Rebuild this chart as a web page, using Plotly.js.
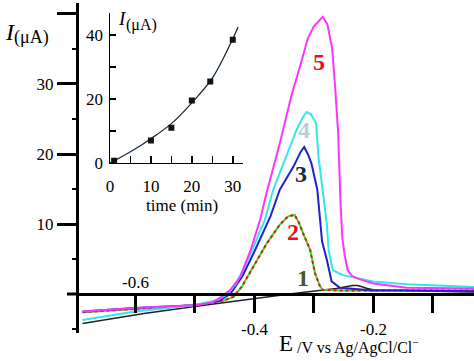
<!DOCTYPE html>
<html><head><meta charset="utf-8">
<script src="https://cdn.plot.ly/plotly-3.0.1.min.js"></script>
<style>html,body{margin:0;padding:0;background:#fff}</style>
</head><body><div id="chart" style="width:474px;height:361px"></div>
<script>
// Main voltammograms: potential E (V) and current I (uA)
const curve1E = [-0.688,-0.6,-0.585,-0.5,-0.45,-0.412,-0.38,-0.35,-0.33,-0.3,-0.262,-0.235,-0.226,-0.21,-0.2,-0.1,-0.03];
const curve1I = [-4.2,-3.0,-2.8,-1.8,-1.2,-0.8,-0.4,-0.1,0.1,0.4,0.8,1.2,1.2,0.8,0.6,0.4,0.3];
const curve2E = [-0.688,-0.6,-0.5,-0.45,-0.435,-0.421,-0.401,-0.379,-0.357,-0.343,-0.332,-0.325,-0.318,-0.306,-0.298,-0.29,-0.285,-0.25,-0.2,-0.1,-0.03];
const curve2I = [-2.6,-2.1,-1.6,-0.9,-0.4,1.0,3.9,7.2,9.9,11.1,11.3,10.2,8.7,6.3,3.0,1.2,0.6,0.5,0.5,0.5,0.5];
const curve3E = [-0.688,-0.6,-0.5,-0.46,-0.44,-0.42,-0.4,-0.385,-0.373,-0.357,-0.334,-0.322,-0.316,-0.31,-0.304,-0.294,-0.29,-0.286,-0.278,-0.27,-0.256,-0.2,-0.15,-0.03];
const curve3I = [-2.5,-2.0,-1.6,-1.0,0,2.5,6,8.8,11.0,14.9,18.2,20.3,21.0,20,18.7,14.9,10.6,7.5,4.9,1.8,0.9,0.5,0.5,0.4];
const curve4E = [-0.688,-0.6,-0.5,-0.46,-0.445,-0.43,-0.41,-0.395,-0.382,-0.368,-0.351,-0.329,-0.318,-0.312,-0.305,-0.296,-0.292,-0.283,-0.278,-0.275,-0.268,-0.251,-0.222,-0.2,-0.144,-0.03];
const curve4I = [-3.7,-2.5,-1.6,-0.8,0,1.5,5,8,10.6,14.9,18.7,23.4,25.3,26.0,25.7,24.4,19.6,13.5,10,6.3,3.4,2.7,2.2,1.8,1.4,1.0];
const curve5E = [-0.688,-0.6,-0.5,-0.47,-0.455,-0.44,-0.423,-0.405,-0.39,-0.379,-0.357,-0.337,-0.323,-0.31,-0.3,-0.285,-0.277,-0.269,-0.264,-0.259,-0.255,-0.252,-0.248,-0.243,-0.236,-0.226,-0.2,-0.144,-0.03];
const curve5I = [-2.5,-2.0,-1.6,-1.2,-0.4,0.6,2.5,6.5,10.6,14.5,21.5,28.5,32.5,36.5,38.2,39.6,38.5,35,29.5,23,13,8,5.5,3.4,2.6,2.2,1.5,0.9,0.8];
// Inset: peak current vs time
const insetTime = [1,10,15,20,24.5,30];
const insetCurrent = [0.7,7,11,19.5,25.5,38.5];
const fitTime = [0,5,10,15,20,25,30,31.3];
const fitCurrent = [0,3.5,7.6,12.3,18.8,26.5,38.8,42.5];
// Tick labels
const mainYTicks = [10,20,30,40];
const mainYText = ['10','20','30',''];
const insetXTicks = [0,5,10,15,20,25,30];
const insetXText = ['0','','10','','20','','30'];
const insetYTicks = [0,10,20,30,40];
const insetYText = ['0','','20','','40'];
const xTickLabels = ['-0.6','-0.4','-0.2'];
const xTickVals = [-0.6,-0.4,-0.2];

const SERIF = 'Liberation Serif, Times New Roman, serif';
const traces = [
  {x:curve1E,y:curve1I,mode:'lines',line:{color:'#222222',width:1.5},xaxis:'x',yaxis:'y'},
  {x:curve2E,y:curve2I,mode:'lines',line:{color:'#33dd33',width:2},xaxis:'x',yaxis:'y'},
  {x:curve2E,y:curve2I,mode:'lines',line:{color:'#ee1111',width:2,dash:'dot'},xaxis:'x',yaxis:'y'},
  {x:curve3E,y:curve3I,mode:'lines',line:{color:'#2222cc',width:2},xaxis:'x',yaxis:'y'},
  {x:curve4E,y:curve4I,mode:'lines',line:{color:'#33e5ee',width:2},xaxis:'x',yaxis:'y'},
  {x:curve5E,y:curve5I,mode:'lines',line:{color:'#ff33ff',width:2},xaxis:'x',yaxis:'y'},
  {x:fitTime,y:fitCurrent,mode:'lines',line:{color:'#1a2a44',width:1.3,shape:'spline'},xaxis:'x2',yaxis:'y2'},
  {x:insetTime,y:insetCurrent,mode:'markers',marker:{symbol:'square',size:6,color:'#111'},xaxis:'x2',yaxis:'y2'}
];
const annotations = [];
xTickVals.forEach((v,i)=>{
  annotations.push({x:v,y:0,xref:'x',yref:'y',text:xTickLabels[i],showarrow:false,
    yanchor:(i===0?'bottom':'top'),yshift:(i===0?0:-24),font:{family:SERIF,size:17,color:'#000'}});
});
const numLabels = [
  {t:'5',x:-0.291,y:33.1,c:'#e8101a'},
  {t:'4',x:-0.316,y:23.4,c:'#b8cde0'},
  {t:'3',x:-0.321,y:17.1,c:'#1c2a3c'},
  {t:'2',x:-0.335,y:8.86,c:'#e8101a'},
  {t:'1',x:-0.318,y:2.29,c:'#4a5530'}
];
numLabels.forEach(n=>annotations.push({x:n.x,y:n.y,xref:'x',yref:'y',text:'<b>'+n.t+'</b>',showarrow:false,
  font:{family:SERIF,size:24,color:n.c}}));
const P = (px)=>(px-79)/395, Q = (py)=>(333-py)/330;
annotations.push(
  {x:P(3),y:Q(17),xref:'paper',yref:'paper',xanchor:'left',yanchor:'top',text:'<i>I</i>',showarrow:false,
    font:{family:SERIF,size:24,color:'#000'}},
  {x:P(12),y:Q(25),xref:'paper',yref:'paper',xanchor:'left',yanchor:'top',text:'(μA)',showarrow:false,
    font:{family:SERIF,size:18,color:'#000'}},
  {x:P(116),y:Q(6),xref:'paper',yref:'paper',xanchor:'left',yanchor:'top',text:'<i>I</i>',showarrow:false,
    font:{family:SERIF,size:19,color:'#000'}},
  {x:P(124),y:Q(14),xref:'paper',yref:'paper',xanchor:'left',yanchor:'top',text:'(μA)',showarrow:false,
    font:{family:SERIF,size:16,color:'#000'}},
  {x:P(182),y:Q(194),xref:'paper',yref:'paper',xanchor:'center',yanchor:'top',text:'time (min)',showarrow:false,
    font:{family:SERIF,size:17,color:'#000'}},
  {x:P(277),y:Q(329),xref:'paper',yref:'paper',xanchor:'left',yanchor:'top',text:'E',showarrow:false,
    font:{family:SERIF,size:23,color:'#000'}},
  {x:P(295),y:Q(334),xref:'paper',yref:'paper',xanchor:'left',yanchor:'top',text:'/V vs Ag/AgCl/Cl<sup>−</sup>',showarrow:false,
    font:{family:SERIF,size:16,color:'#000'}}
);
const layout = {
  width:474,height:361,
  margin:{l:79,r:0,t:3,b:28},
  paper_bgcolor:'#fff',plot_bgcolor:'rgba(0,0,0,0)',
  showlegend:false,
  xaxis:{range:[-0.694,-0.031],anchor:'free',position:39/330,showline:true,linewidth:3,linecolor:'#000',
    ticks:'outside',ticklen:17,tickwidth:3,tickcolor:'#000',tickvals:[-0.6,-0.5,-0.4,-0.3,-0.2,-0.1],
    showticklabels:false,showgrid:false,zeroline:false},
  yaxis:{range:[-5.57,41.57],showline:true,linewidth:3,linecolor:'#000',ticks:'outside',ticklen:19,tickwidth:3,
    tickcolor:'#000',tickvals:mainYTicks,ticktext:mainYText,tickfont:{family:SERIF,size:17,color:'#000'},
    minor:{tickvals:[-5,5,15,25,35],ticks:'outside',ticklen:4,tickwidth:2,tickcolor:'#000'},
    showgrid:false,zeroline:false},
  xaxis2:{domain:[0.0785,0.4152],anchor:'y2',range:[0,32.5],showline:true,linewidth:1.5,linecolor:'#000',
    ticks:'inside',ticklen:7,tickwidth:1.5,tickcolor:'#000',tickvals:insetXTicks,ticktext:insetXText,
    ticklabelstandoff:7,
    tickfont:{family:SERIF,size:17,color:'#000'},showgrid:false,zeroline:false},
  yaxis2:{domain:[0.5152,0.9709],anchor:'x2',range:[0,47],showline:true,linewidth:1.5,linecolor:'#000',
    ticks:'inside',ticklen:6,tickwidth:1.5,tickcolor:'#000',tickvals:insetYTicks,ticktext:insetYText,
    ticklabelstandoff:2,
    tickfont:{family:SERIF,size:17,color:'#000'},showgrid:false,zeroline:false},
  shapes:[{type:'line',xref:'paper',yref:'paper',x0:-12/395,x1:0,y0:39/330,y1:39/330,line:{color:'#000',width:3}}],
  annotations:annotations
};
Plotly.newPlot('chart',traces,layout,{displayModeBar:false,staticPlot:true});
</script></body></html>
